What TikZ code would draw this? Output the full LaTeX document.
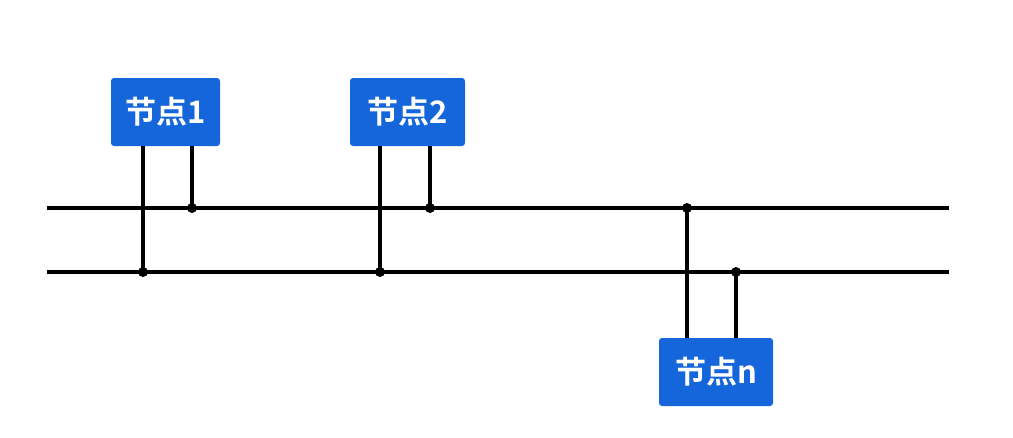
\documentclass[tikz,border=0pt]{standalone}
\usepackage{fontspec}
\newfontfamily\cjk{Noto Sans CJK SC Bold}
\begin{document}
\begin{tikzpicture}[x=1pt,y=-1pt,
  box/.style={fill=nodeblue, rounded corners=3pt, text=white, font=\cjk\fontsize{31}{34}\selectfont, inner sep=0pt},
  wire/.style={line width=3.2pt},
  dotc/.style={circle, fill=black, inner sep=0pt, minimum size=10pt}]
\definecolor{nodeblue}{HTML}{1466DA}
\useasboundingbox (0,0) rectangle (1013,437);
\node[box, minimum width=109pt, minimum height=68pt] (n1) at (165.5,112) {节点1};
\node[box, minimum width=115pt, minimum height=68pt] (n2) at (407.5,112) {节点2};
\node[box, minimum width=114pt, minimum height=68pt] (nn) at (716,372) {节点n};
\coordinate (a1) at (47,208); \coordinate (a2) at (949,208);
\coordinate (b1) at (47,272); \coordinate (b2) at (949,272);
\draw[wire] (a1) -- (a2);
\draw[wire] (b1) -- (b2);
\node[dotc] (d1) at (143,272) {}; \node[dotc] (d2) at (192,208) {};
\node[dotc] (d3) at (380,272) {}; \node[dotc] (d4) at (430,208) {};
\node[dotc] (d5) at (687,208) {}; \node[dotc] (d6) at (736,272) {};
\draw[wire] (d1.center) -- (d1 |- n1.south);
\draw[wire] (d2.center) -- (d2 |- n1.south);
\draw[wire] (d3.center) -- (d3 |- n2.south);
\draw[wire] (d4.center) -- (d4 |- n2.south);
\draw[wire] (d5.center) -- (d5 |- nn.north);
\draw[wire] (d6.center) -- (d6 |- nn.north);
\end{tikzpicture}
\end{document}
